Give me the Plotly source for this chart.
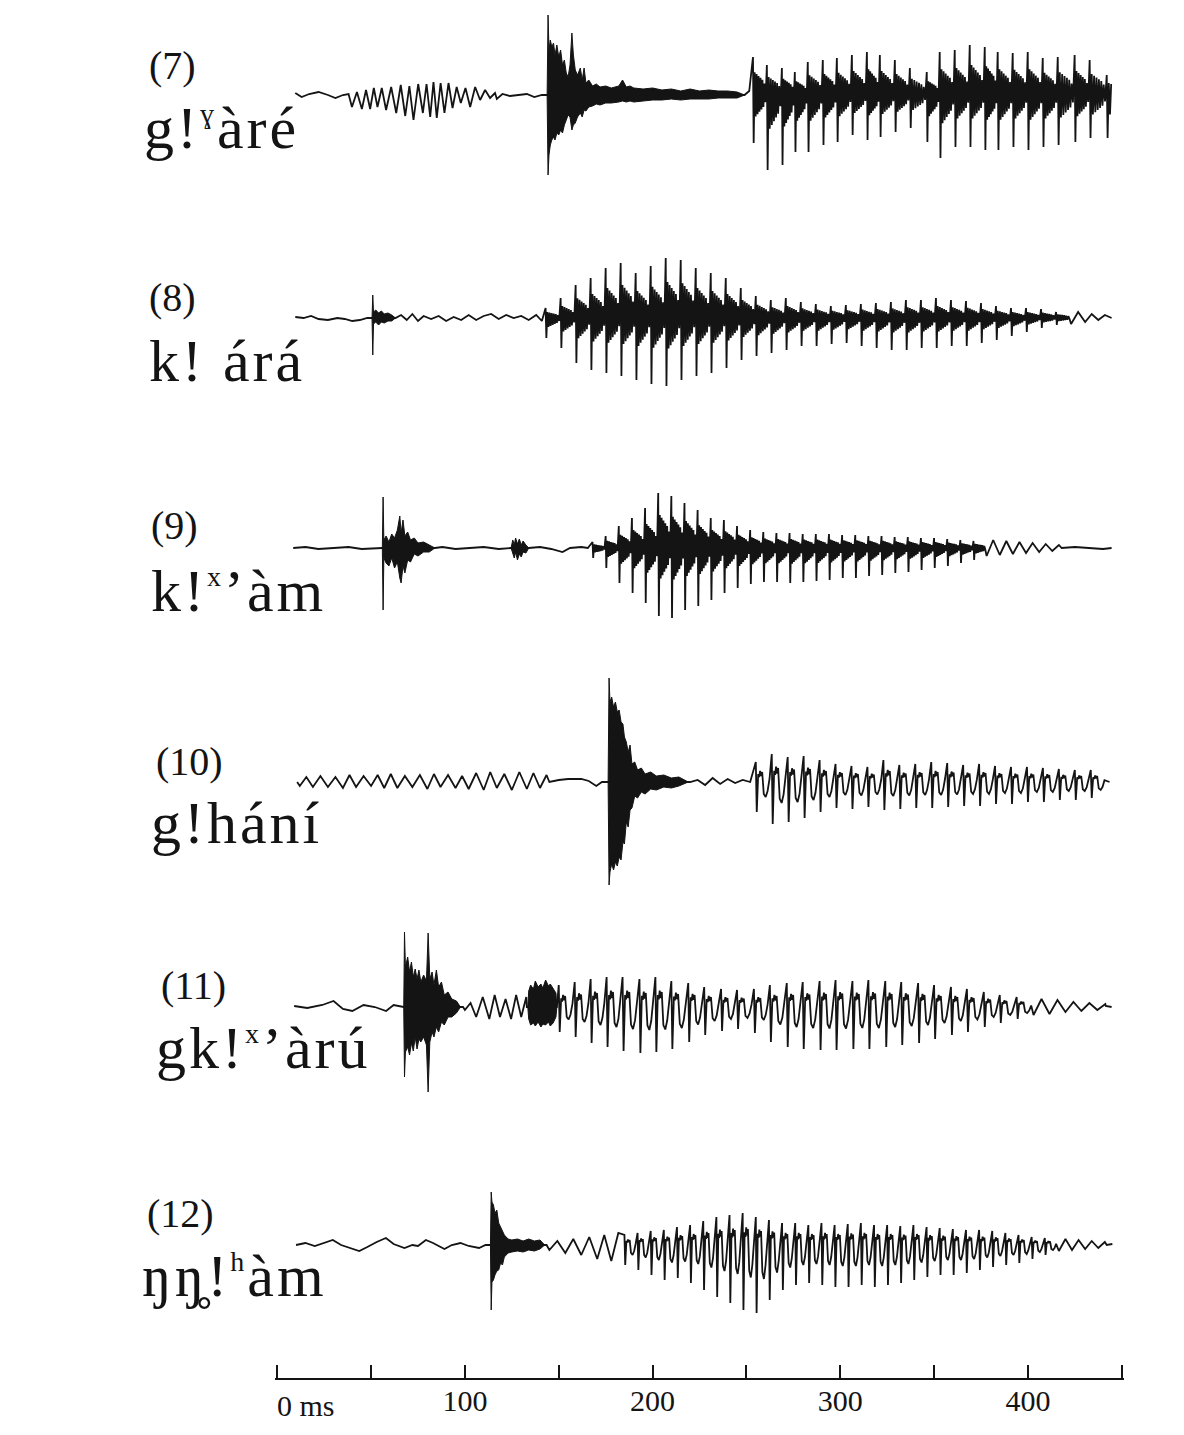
import plotly.graph_objects as go

# ---------------- page / layout constants (page pixels) ----------------
PAGE_W, PAGE_H = 1184, 1435
BODY = 8                        # browser body margin around the figure
FIG_W, FIG_H = PAGE_W - BODY, PAGE_H - BODY
MS0_PX, PX_PER_MS = 277, 1.8778  # 0 ms position and scale of the time axis
X_RANGE = [-1.2, 451.2]
AXIS_PX = 1378                  # pixel row of the time axis
INK = "#141414"
SERIF = "Liberation Serif, Times New Roman, DejaVu Serif, serif"

ROW_BASE_PX = [95, 318, 548, 782, 1007, 1245]
NUM_POS_PX = [(147, 65), (147, 297), (149, 525), (154, 761), (159, 985), (145, 1213)]
WORD_POS_PX = [(142, 128), (147, 361), (149, 591), (149, 823), (154, 1048), (140, 1276)]

# ---------------- text ----------------
SUP = '<sup><span style="font-size:28px">{}</span></sup>'
WIDE = '<span style="letter-spacing:3px">{}</span>'
ROW_NUM = ["(7)", "(8)", "(9)", "(10)", "(11)", "(12)"]
ROW_WORD = ["g!" + SUP.format("ɣ") + "àré", "k! árá", "k!" + SUP.format("x") + "’àm", "g!hání",
            "gk!" + SUP.format("x") + "’àrú", "ŋŋ\u0325!" + SUP.format("h") + "àm"]

TICK_MS = [100, 200, 300, 400]
TICK_TEXT = ["100", "200", "300", "400"]
ROW_END = [444.6, 444.6, 444.6, 443.5, 444.6, 445.0]

# ---------------- waveform readings (time in ms, amplitude in px) ----------------
# (7) g!ɣàré
R7_LINE_T = [9.6, 13, 17, 22, 27, 31, 35, 38, 117, 120, 124, 128, 133, 137, 141, 143.5, 249, 251.5]
R7_LINE_A = [2, -2, 1, 3, 0, -3, 0, 1, -4, 1, -1, 0, 1, -2, 0, 0, 0, 4]
R7_WAVE_T = [39.8, 45.1, 49.5, 53.4, 58.0, 63.4, 68.2, 72.6, 77.6, 81.5, 85.0, 89.1, 93.4, 97.8, 102.8, 108.1, 113.4]
R7_WAVE_UP = [3, 5, 7, 7, 8, 10, 9, 11, 11, 13, 12, 12, 8, 7, 8, 5, 2]
R7_WAVE_DN = [12, 14, 14, 12, 15, 18, 21, 25, 18, 22, 23, 18, 13, 8, 12, 5, 3]
R7_PULSE_T = [253.5, 260.9, 268.9, 275.8, 282.7, 290.7, 298.2, 306.2, 314.2, 321.1, 329.1, 337.1, 346.1,
              353.0, 361.0, 369.0, 377.0, 383.9, 391.9, 399.9, 407.9, 415.9, 424.9, 432.9, 442.0]
R7_PULSE_UP = [38, 30, 27, 23, 33, 35, 37, 40, 43, 40, 35, 27, 23, 43, 45, 50, 48, 43, 42, 43, 37, 38, 40, 35, 20]
R7_PULSE_DN = [48, 75, 70, 57, 57, 50, 47, 40, 45, 42, 37, 33, 47, 63, 52, 52, 55, 55, 52, 55, 52, 50, 47, 43, 43]
R7_BURST_T = [143.8, 144.3, 144.8, 145.5, 146.3, 147.2, 148, 149, 150, 151, 152, 153, 154, 155, 156, 157,
              157.8, 158.8, 160, 161.5, 162.5, 163.5, 164.5, 166, 168, 170, 172, 175, 178, 182, 184, 186,
              188, 190, 195, 200, 205, 210, 215, 220, 225, 230, 235, 240, 245, 249]
R7_BURST_HI = [0, 80, 45, 55, 48, 52, 40, 50, 38, 45, 30, 35, 22, 18, 30, 62, 40, 25, 20, 27, 15, 27, 12, 15,
               9, 11, 8, 9, 7, 9, 15, 8, 9, 7, 6, 7, 5, 6, 4, 6, 4, 5, 4, 4, 3, 0]
R7_BURST_LO = [0, -80, -60, -50, -45, -42, -45, -38, -40, -35, -38, -30, -25, -20, -22, -35, -30, -28, -22,
               -18, -22, -15, -16, -12, -11, -9, -10, -8, -8, -7, -6, -7, -6, -7, -6, -5, -5, -4, -5, -4,
               -4, -4, -3, -3, -3, 0]

# (8) k! árá
R8_LINE_T = [9.6, 14, 18, 22, 27, 32, 36, 40, 44, 48, 50.5, 63, 66, 69, 72, 75, 78, 82, 86, 90, 94, 98, 102,
             106, 110, 114, 118, 122, 126, 130, 134, 138, 141, 442.5, 444.6]
R8_LINE_A = [1, 0, 2, -1, -2, 0, -1, -3, -2, 0, 0, 0, 3, -2, 4, -3, 2, -1, 2, -3, 1, -2, 3, -2, 2, 4, -1, 3,
             0, 2, -2, 3, -3, 2, 0]
R8_WAVE_T = [423, 430.5, 437.5]
R8_WAVE_UP = [6, 4, 3]
R8_WAVE_DN = [6, 4, 2]
R8_PULSE_T = [143, 151, 159, 167, 175, 183, 191, 199, 207, 215, 223, 231, 239, 247, 255, 263, 271, 279, 287,
              295, 303, 311, 319, 327, 335, 343, 351, 359, 367, 375, 383, 391, 399, 407, 415]
R8_PULSE_UP = [10, 20, 33, 40, 50, 55, 45, 52, 60, 58, 50, 45, 40, 30, 22, 18, 20, 16, 14, 12, 13, 14, 15, 16,
               18, 18, 20, 18, 17, 15, 12, 10, 10, 9, 6]
R8_PULSE_DN = [20, 30, 45, 52, 55, 58, 62, 66, 68, 62, 58, 55, 50, 42, 38, 35, 32, 28, 28, 26, 25, 28, 30, 32,
               32, 30, 30, 28, 28, 25, 22, 18, 14, 10, 7]
R8_BURST_T = [50.5, 50.9, 51.3, 52.5, 54, 55.5, 57, 59, 61, 63]
R8_BURST_HI = [0, 23, 6, 8, 5, 7, 4, 5, 3, 0]
R8_BURST_LO = [0, -37, -6, -4, -7, -4, -5, -3, -3, 0]

# (9) k!x'àm
R9_LINE_T = [8.5, 15, 22, 30, 38, 45, 52, 56, 84, 88, 95, 102, 110, 118, 124.6, 134, 140, 146, 152, 156, 162,
             165.5, 418, 425, 432, 440, 444.6]
R9_LINE_A = [0, 1, -1, 0, 1, -1, 0, 0, 0, 1, -1, 0, 1, -1, 0, 0, 1, -1, -4, 0, 1, 0, 0, 1, 0, -1, 0]
R9_WAVE_T = [378, 385, 392, 399, 406, 413]
R9_WAVE_UP = [8, 7, 6, 5, 4, 3]
R9_WAVE_DN = [8, 7, 6, 5, 4, 3]
R9_PULSE_T = [168, 175, 182, 189, 196, 203, 210, 217, 224, 231, 238, 245, 252, 259, 266, 273, 280, 287, 294,
              301, 308, 315, 322, 329, 336, 343, 350, 357, 364, 371]
R9_PULSE_UP = [6, 12, 22, 30, 40, 55, 52, 45, 38, 30, 28, 22, 18, 16, 15, 15, 14, 14, 14, 13, 13, 12, 12, 11,
               11, 10, 10, 9, 8, 7]
R9_PULSE_DN = [10, 20, 35, 45, 55, 68, 70, 62, 58, 52, 45, 40, 36, 34, 34, 35, 34, 33, 32, 30, 30, 28, 27, 25,
               24, 22, 20, 18, 15, 12]
R9_BURST_T = [56.0, 56.4, 56.8, 58, 59.5, 61, 62.5, 64, 65.3, 66, 67, 68, 69.5, 71, 73, 75, 78, 81, 84, None,
              124.6, 125.5, 126.3, 127, 128, 129, 130, 131, 132.5, 134]
R9_BURST_HI = [0, 51, 8, 12, 6, 14, 10, 18, 32, 15, 28, 12, 16, 8, 10, 5, 6, 3, 0, None,
               0, 8, 3, 10, 4, 9, 3, 7, 3, 0]
R9_BURST_LO = [0, -62, -10, -15, -18, -10, -20, -14, -30, -35, -18, -25, -12, -14, -6, -8, -4, -4, 0, None,
               0, -5, -10, -4, -12, -6, -9, -4, -5, 0]

# (10) g!hání
R10_LINE_T = [10.6, 145, 150, 155, 162, 166, 170, 173, 176.3, 220, 224, 228, 232, 236, 240, 244, 248, 252, 443.5]
R10_LINE_A = [0, 0, 2, 3, 3, 1, -4, 0, 0, 0, 2, -3, 4, -2, 3, -1, 2, 0, 0]
R10_WAVE_T = [12, 19, 27, 35, 42, 50, 57, 64, 72, 80, 87, 95, 102, 110, 117, 125, 133, 140]
R10_WAVE_UP = [5, 6, 5, 7, 6, 7, 8, 6, 7, 8, 7, 6, 9, 10, 8, 10, 9, 7]
R10_WAVE_DN = [4, 5, 5, 6, 5, 4, 6, 6, 5, 7, 5, 6, 7, 8, 6, 8, 7, 6]
R10_PULSE_T = [255, 263.5, 272, 280.5, 289, 297.5, 306, 314.5, 323, 331.5, 340, 348.5, 357, 365.5, 374, 382.5,
               391, 399.5, 408, 416.5, 425, 433.5]
R10_PULSE_UP = [20, 28, 25, 26, 22, 18, 16, 15, 22, 17, 18, 20, 19, 17, 18, 16, 15, 15, 14, 13, 12, 12]
R10_PULSE_DN = [30, 42, 40, 36, 30, 26, 27, 25, 28, 27, 26, 26, 25, 24, 24, 22, 22, 20, 20, 18, 18, 16]
R10_BURST_T = [176.3, 176.8, 177.3, 178.2, 179.2, 180.2, 181.2, 182.2, 183.2, 184.2, 185, 186, 187, 188, 189,
               190.5, 192, 194, 196, 199, 202, 206, 210, 214, 219]
R10_BURST_HI = [0, 104, 80, 85, 75, 80, 70, 72, 60, 58, 45, 40, 30, 37, 18, 20, 12, 14, 8, 10, 6, 7, 4, 5, 0]
R10_BURST_LO = [0, -103, -90, -82, -88, -80, -84, -75, -78, -60, -62, -40, -45, -28, -26, -14, -16, -10, -12,
                -7, -8, -5, -6, -4, 0]

# (11) gk!x'àrú
R11_LINE_T = [9, 16, 24, 30, 35, 40, 46, 52, 58, 62, 67.4, 97.6, 99, 133, 149, 441.5, 444.6]
R11_LINE_A = [1, -1, 2, 6, -2, -4, 2, 0, -4, 2, 0, 0, 0, 0, 0, 1, 0]
R11_WAVE_T = [100, 106, 113, 118.7, 124.6, 130, 403, 411.5, 420, 428.5, 437]
R11_WAVE_UP = [4, 10, 12, 8, 12, 10, 8, 7, 5, 4, 3]
R11_WAVE_DN = [3, 10, 12, 10, 12, 10, 8, 7, 5, 4, 3]
R11_PULSE_T = [150, 158.5, 167, 175.5, 184, 193, 201.5, 210, 219, 227.5, 236.5, 245, 254, 262.5, 271.5, 280,
               289, 297.5, 306.5, 315, 324, 332.5, 341.5, 350, 359, 367.5, 376.5, 385, 394]
R11_PULSE_UP = [22, 25, 28, 30, 30, 28, 30, 26, 24, 20, 18, 17, 18, 22, 24, 25, 26, 27, 26, 27, 26, 25, 24, 22,
                20, 18, 15, 12, 10]
R11_PULSE_DN = [25, 30, 36, 40, 44, 46, 45, 42, 35, 28, 24, 22, 26, 35, 40, 42, 43, 43, 42, 42, 40, 38, 36, 32,
                28, 25, 20, 16, 12]
R11_BURST_T = [67.4, 67.8, 68.3, 69.5, 70.5, 71.5, 72.5, 73.5, 74.5, 75.5, 76.5, 78, 79.5, 80.4, 81.3, 82.5,
               83.5, 84.8, 86, 87.5, 89, 91, 93, 95.5, 97.6, None,
               133.5, 134, 135, 136.5, 137.5, 139, 140.5, 141.5, 143, 144.5, 145.5, 147, 148.5, 149]
R11_BURST_HI = [0, 75, 40, 50, 35, 45, 30, 38, 28, 37, 25, 32, 26, 74, 28, 35, 22, 37, 20, 25, 12, 15, 8, 6, 0,
                None, 0, 16, 22, 18, 26, 20, 23, 19, 27, 21, 23, 19, 14, 0]
R11_BURST_LO = [0, -70, -45, -40, -48, -36, -44, -30, -42, -32, -35, -30, -38, -85, -35, -25, -30, -20, -25,
                -15, -18, -10, -10, -6, 0, None, 0, -12, -18, -16, -19, -15, -20, -17, -18, -15, -19, -16,
                -10, 0]

# (12) ŋŋ̥!ʰàm
R12_LINE_T = [10, 15, 20, 25, 29.6, 34, 39, 43.7, 48, 53, 57.9, 62, 67.8, 72, 75, 79.2, 83, 89.1, 93, 97.6,
              102, 107.5, 111, 113.6, 142.5, 143.5, 442, 445]
R12_LINE_A = [0, 2, -1, 2, 5, 0, -3, -6, -2, 3, 7, 1, -3, 0, -1, 5, 2, -4, 0, 2, -1, -3, 0, 0, 0, 0, 0, 1]
R12_WAVE_T = [145, 153.5, 162, 170.5, 178, 416.5, 423.5, 430.5, 437.5]
R12_WAVE_UP = [4, 6, 8, 10, 12, 6, 5, 4, 3]
R12_WAVE_DN = [5, 8, 10, 14, 16, 6, 5, 4, 3]
R12_PULSE_T = [185, 192, 199, 206, 213, 220, 227, 234, 241, 248, 255, 262, 269, 276, 283, 290, 297, 304, 311,
               318, 325, 332, 339, 346, 353, 360, 367, 374, 381, 388, 395, 402, 409]
R12_PULSE_UP = [10, 12, 14, 15, 18, 20, 24, 28, 30, 32, 28, 25, 22, 22, 20, 22, 20, 21, 22, 20, 20, 19, 20, 18,
                17, 16, 15, 15, 14, 12, 10, 8, 7]
R12_PULSE_DN = [20, 25, 30, 35, 33, 38, 45, 52, 58, 65, 68, 55, 45, 40, 38, 40, 42, 42, 40, 42, 40, 38, 35, 32,
                30, 30, 28, 25, 22, 20, 18, 14, 10]
R12_BURST_T = [113.6, 114.0, 114.4, 115.2, 116, 117, 118, 119, 120, 121, 122, 123, 125, 128, 131, 134, 137,
               140, 142.5]
R12_BURST_HI = [0, 53, 43, 40, 32, 35, 22, 18, 14, 10, 8, 6, 5, 6, 4, 6, 4, 5, 0]
R12_BURST_LO = [0, -65, -37, -35, -30, -26, -25, -18, -20, -12, -10, -8, -7, -6, -7, -5, -6, -4, 0]

ROWS = [
    (R7_LINE_T, R7_LINE_A, R7_WAVE_T, R7_WAVE_UP, R7_WAVE_DN, R7_PULSE_T, R7_PULSE_UP, R7_PULSE_DN,
     R7_BURST_T, R7_BURST_HI, R7_BURST_LO),
    (R8_LINE_T, R8_LINE_A, R8_WAVE_T, R8_WAVE_UP, R8_WAVE_DN, R8_PULSE_T, R8_PULSE_UP, R8_PULSE_DN,
     R8_BURST_T, R8_BURST_HI, R8_BURST_LO),
    (R9_LINE_T, R9_LINE_A, R9_WAVE_T, R9_WAVE_UP, R9_WAVE_DN, R9_PULSE_T, R9_PULSE_UP, R9_PULSE_DN,
     R9_BURST_T, R9_BURST_HI, R9_BURST_LO),
    (R10_LINE_T, R10_LINE_A, R10_WAVE_T, R10_WAVE_UP, R10_WAVE_DN, R10_PULSE_T, R10_PULSE_UP, R10_PULSE_DN,
     R10_BURST_T, R10_BURST_HI, R10_BURST_LO),
    (R11_LINE_T, R11_LINE_A, R11_WAVE_T, R11_WAVE_UP, R11_WAVE_DN, R11_PULSE_T, R11_PULSE_UP, R11_PULSE_DN,
     R11_BURST_T, R11_BURST_HI, R11_BURST_LO),
    (R12_LINE_T, R12_LINE_A, R12_WAVE_T, R12_WAVE_UP, R12_WAVE_DN, R12_PULSE_T, R12_PULSE_UP, R12_PULSE_DN,
     R12_BURST_T, R12_BURST_HI, R12_BURST_LO),
]

# drawing style of one glottal period: (fraction of period, factor, which amplitude)
DENSE = [(0.00, 1.0, "u"), (0.05, -1.0, "d"), (0.12, 0.6, "u"), (0.19, -0.45, "d"), (0.26, 0.55, "u"),
         (0.33, -0.4, "d"), (0.40, 0.5, "u"), (0.47, -0.35, "d"), (0.54, 0.45, "u"), (0.61, -0.3, "d"),
         (0.68, 0.4, "u"), (0.75, -0.25, "d"), (0.82, 0.3, "u"), (0.90, -0.15, "d")]
PLAIN = [(0.00, 1.0, "u"), (0.06, -1.0, "d"), (0.15, 0.4, "u"), (0.21, 0.25, "u"), (0.27, 0.55, "u"),
         (0.33, 0.3, "u"), (0.40, 0.5, "u"), (0.50, -0.4, "d"), (0.62, -0.5, "d"), (0.74, -0.3, "d"),
         (0.86, 0.15, "u")]
ROW_SHAPE = [DENSE, DENSE, DENSE, PLAIN, PLAIN, PLAIN]


def periods(ts):
    out = []
    for i, t in enumerate(ts):
        prev = t - ts[i - 1] if i > 0 else None
        nxt = ts[i + 1] - t if i + 1 < len(ts) else None
        if nxt is None or (prev is not None and nxt > 1.6 * prev):
            out.append(prev if prev is not None else 5)
        else:
            out.append(nxt)
    return out


def wave_points(ts, up, dn):
    pts = []
    for t, p, u, d in zip(ts, periods(ts), up, dn):
        pts += [(t, -d), (t + p / 2, u)]
    return pts


def pulse_points(ts, up, dn, shape):
    pts = []
    for t, p, u, d in zip(ts, periods(ts), up, dn):
        for f, k, side in shape:
            pts.append((t + f * p, k * (u if side == "u" else d)))
    return pts


def split_none(ts, hi, lo):
    segs, cur = [], ([], [], [])
    for t, h, l in zip(ts, hi, lo):
        if t is None:
            segs.append(cur)
            cur = ([], [], [])
        else:
            cur[0].append(t)
            cur[1].append(h)
            cur[2].append(l)
    segs.append(cur)
    return segs


fig = go.Figure()

for i, row in enumerate(ROWS):
    lt, la, wt, wu, wd, pt, pu, pd, bt, bh, bl = row
    yref = "y" if i == 0 else f"y{i + 1}"
    pts = list(zip(lt, la)) + wave_points(wt, wu, wd) + pulse_points(pt, pu, pd, ROW_SHAPE[i])
    pts = sorted(p for p in pts if p[0] <= ROW_END[i])
    fig.add_trace(go.Scatter(
        x=[p[0] for p in pts], y=[p[1] for p in pts], yaxis=yref, mode="lines",
        line=dict(color=INK, width=1.8), hoverinfo="skip"))
    for st, sh, sl in split_none(bt, bh, bl):
        fig.add_trace(go.Scatter(
            x=st + st[::-1], y=sh + sl[::-1], yaxis=yref, mode="lines",
            fill="toself", fillcolor=INK, line=dict(color=INK, width=1), hoverinfo="skip"))

# the labelled scale uses a second, overlaid time axis
fig.add_trace(go.Scatter(x=[], y=[], xaxis="x2", hoverinfo="skip"))

# plot area in page pixels
left_px = MS0_PX + X_RANGE[0] * PX_PER_MS
right_px = MS0_PX + X_RANGE[1] * PX_PER_MS
top_px = BODY


def px_x(px):
    return (px - left_px) / (right_px - left_px)


def px_y(py):
    return (AXIS_PX - py) / (AXIS_PX - top_px)


annotations = []
for txt, (x, y) in zip(ROW_NUM, NUM_POS_PX):
    annotations.append(dict(text=txt, x=px_x(x), y=px_y(y), xref="paper", yref="paper",
                            xanchor="left", yanchor="middle", showarrow=False,
                            font=dict(family=SERIF, size=40, color=INK)))
for txt, (x, y) in zip(ROW_WORD, WORD_POS_PX):
    annotations.append(dict(text=WIDE.format(txt), x=px_x(x), y=px_y(y), xref="paper", yref="paper",
                            xanchor="left", yanchor="middle", showarrow=False,
                            font=dict(family=SERIF, size=60, color=INK)))
annotations.append(dict(text="0 ms", x=px_x(MS0_PX - 2), y=px_y(1405), xref="paper", yref="paper",
                        xanchor="left", yanchor="middle", showarrow=False,
                        font=dict(family=SERIF, size=30, color=INK)))

layout = dict(
    width=FIG_W, height=FIG_H,
    margin=dict(l=left_px - BODY, r=FIG_W - (right_px - BODY), t=0, b=FIG_H - (AXIS_PX - BODY), pad=0),
    paper_bgcolor="white", plot_bgcolor="white", showlegend=False,
    annotations=annotations,
    xaxis=dict(range=X_RANGE, showgrid=False, zeroline=False, showline=True,
               linecolor=INK, linewidth=2, ticks="inside", ticklen=13, tickwidth=1.5,
               tickcolor=INK, tickmode="linear", tick0=0, dtick=50, showticklabels=False,
               fixedrange=True),
    xaxis2=dict(range=X_RANGE, overlaying="x", anchor="y", side="bottom", showgrid=False,
                zeroline=False, showline=False, ticks="", tickmode="array", tickvals=TICK_MS,
                ticktext=TICK_TEXT, tickfont=dict(family=SERIF, size=30, color=INK),
                ticklabelstandoff=2, fixedrange=True),
)
for i, b in enumerate(ROW_BASE_PX):
    key = "yaxis" if i == 0 else f"yaxis{i + 1}"
    ax = dict(range=[-(AXIS_PX - b), b - top_px], visible=False, showgrid=False, zeroline=False,
              domain=[0, 1], fixedrange=True)
    if i:
        ax["overlaying"] = "y"
    layout[key] = ax

fig.update_layout(**layout)
fig.write_html("out.html")
